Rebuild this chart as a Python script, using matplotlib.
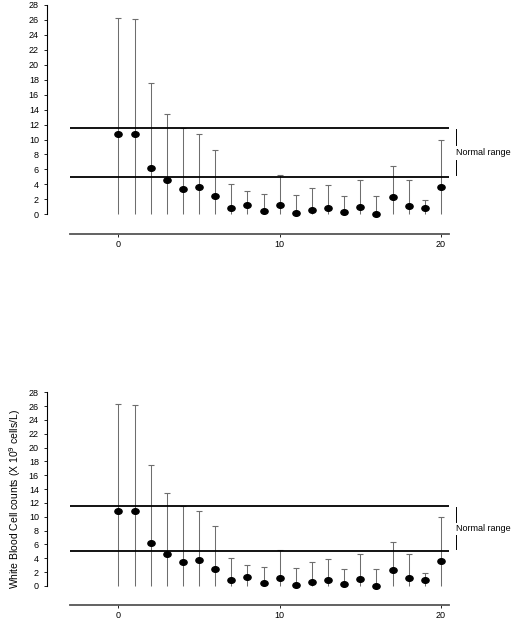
import matplotlib
matplotlib.use('Agg')
import matplotlib.pyplot as plt
from matplotlib.path import Path
from matplotlib.transforms import Affine2D

plt.rcParams['font.family'] = ['Liberation Sans', 'DejaVu Sans']

# data
day = list(range(21))
mean_wbc = [10.8, 10.8, 6.2, 4.6, 3.4, 3.7, 2.4, 0.85, 1.3, 0.4, 1.2,
            0.17, 0.57, 0.8, 0.27, 1.0, 0.0, 2.36, 1.1, 0.84, 3.6]
upper_wbc = [26.3, 26.1, 17.5, 13.4, 11.6, 10.8, 8.6, 4.0, 3.1, 2.76, 5.2,
             2.6, 3.5, 3.97, 2.5, 4.6, 2.4, 6.4, 4.6, 1.9, 10.0]
normal_low = 5.0
normal_high = 11.5
yticks = list(range(0, 29, 2))
xticks = [0, 10, 20]

# slightly flattened dot
dot = Path.unit_circle().transformed(Affine2D().scale(1.0, 0.78))

fig = plt.figure(figsize=(5.20, 6.21), dpi=100)


def panel(ax, ybottom, ylabel=None):
    ax.set_xlim(-3, 20.5)
    ax.set_ylim(ybottom, 28)
    # error bars: line from 0 up to the upper value, cap on top only
    ax.vlines(day, 0, upper_wbc, color='#6e6e6e', linewidth=0.75)
    ax.plot(day, upper_wbc, linestyle='none', marker='_', markersize=4,
            color='#6e6e6e', markeredgewidth=0.8)
    ax.plot(day, mean_wbc, linestyle='none', marker=dot, markersize=5.2,
            color='black')
    ax.axhline(normal_high, color='black', linewidth=1.3)
    ax.axhline(normal_low, color='black', linewidth=1.3)
    # normal range bracket
    ax.plot([20.93, 20.93], [normal_high - 0.1, 9.3], color='black',
            linewidth=0.7, clip_on=False)
    ax.plot([20.93, 20.93], [7.3, normal_low + 0.3], color='black',
            linewidth=0.7, clip_on=False)
    ax.text(20.95, 8.3, 'Normal range', fontsize=6.5, va='center', ha='left')

    ax.spines['top'].set_visible(False)
    ax.spines['right'].set_visible(False)
    ax.spines['left'].set_position(('axes', -0.06))
    ax.spines['left'].set_bounds(0, 28)
    ax.spines['left'].set_linewidth(0.8)
    ax.spines['bottom'].set_linewidth(1.3)
    ax.spines['bottom'].set_color('#555555')
    ax.set_yticks(yticks)
    ax.set_xticks(xticks)
    ax.tick_params(axis='both', labelsize=6.5, length=2.5, width=0.6)
    ax.tick_params(axis='x', pad=2)
    if ylabel:
        ax.set_ylabel(ylabel, fontsize=7.5, labelpad=4)


ax1 = fig.add_axes([70 / 520, 1 - 234 / 621, 379 / 520, 229 / 621])
panel(ax1, -2.64)

ax2 = fig.add_axes([70 / 520, 1 - 605 / 621, 379 / 520, 212.7 / 621])
panel(ax2, -2.75, 'White Blood Cell counts (X 10$^9$ cells/L)')

fig.savefig('out.png', dpi=100)
